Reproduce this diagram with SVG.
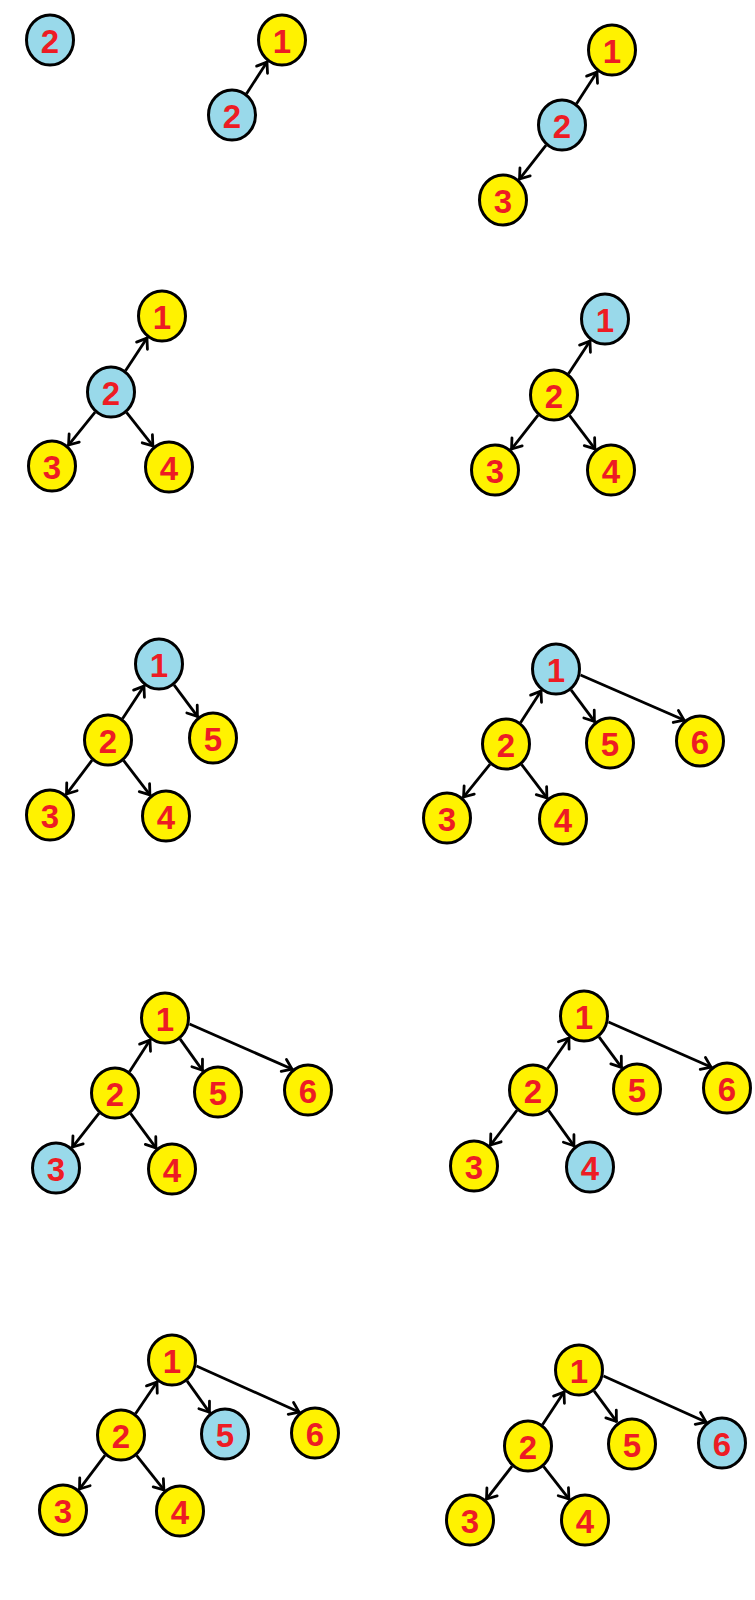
<svg xmlns="http://www.w3.org/2000/svg" width="755" height="1600" viewBox="0 0 755 1600">
<style>
.n{stroke:#000;stroke-width:3}
.y{fill:#FFF200}
.b{fill:#99D9EA}
.t{font-family:"Liberation Sans",Arial,sans-serif;font-weight:bold;font-size:33px;fill:#ED1C24;text-anchor:middle}
.e{stroke:#000;stroke-width:2.8;fill:none;marker-end:url(#ah)}
</style>
<defs>
<marker id="ah" markerUnits="userSpaceOnUse" orient="auto" refX="1" refY="0" markerWidth="20" markerHeight="20" overflow="visible">
<path d="M -9 -6.5 L 0 0 L -9 6.5" fill="none" stroke="#000" stroke-width="2.8" stroke-linejoin="round" stroke-linecap="round"/>
</marker>
</defs>
<rect width="755" height="1600" fill="#fff"/>
<g id="connectors">
<line class="e" x1="246.5" y1="93.7" x2="267.5" y2="61.3"/>
<line class="e" x1="576.5" y1="103.7" x2="597.5" y2="71.3"/>
<line class="e" x1="546.1" y1="145.2" x2="518.9" y2="179.8"/>
<line class="e" x1="125.5" y1="370.7" x2="147.5" y2="337.3"/>
<line class="e" x1="95.1" y1="412.2" x2="67.9" y2="445.8"/>
<line class="e" x1="126.5" y1="412.4" x2="153.5" y2="446.6"/>
<line class="e" x1="568.5" y1="373.7" x2="590.5" y2="340.3"/>
<line class="e" x1="538.1" y1="415.2" x2="510.9" y2="449.8"/>
<line class="e" x1="569.5" y1="415.4" x2="595.5" y2="449.6"/>
<line class="e" x1="122.5" y1="718.7" x2="144.5" y2="685.3"/>
<line class="e" x1="92.1" y1="760.2" x2="65.9" y2="794.8"/>
<line class="e" x1="123.5" y1="760.4" x2="150.5" y2="795.6"/>
<line class="e" x1="174" y1="684.9" x2="198" y2="717.1"/>
<line class="e" x1="520.5" y1="722.7" x2="541.5" y2="690.3"/>
<line class="e" x1="490.1" y1="764.2" x2="462.9" y2="797.8"/>
<line class="e" x1="521.5" y1="764.4" x2="547.5" y2="798.6"/>
<line class="e" x1="571" y1="689.9" x2="595" y2="722.1"/>
<line class="e" x1="580.5" y1="675" x2="685" y2="720.5"/>
<line class="e" x1="129.5" y1="1071.7" x2="150.5" y2="1039.3"/>
<line class="e" x1="99.1" y1="1113.2" x2="71.9" y2="1147.8"/>
<line class="e" x1="130.5" y1="1113.4" x2="156.5" y2="1148.6"/>
<line class="e" x1="180" y1="1038.9" x2="203" y2="1071.1"/>
<line class="e" x1="189.5" y1="1024" x2="293" y2="1069.5"/>
<line class="e" x1="547.5" y1="1068.7" x2="569.5" y2="1037.3"/>
<line class="e" x1="517.1" y1="1110.2" x2="489.9" y2="1145.8"/>
<line class="e" x1="548.5" y1="1110.4" x2="574.5" y2="1146.6"/>
<line class="e" x1="599" y1="1036.9" x2="622" y2="1068.1"/>
<line class="e" x1="608.5" y1="1022" x2="712" y2="1067.5"/>
<line class="e" x1="135.5" y1="1413.7" x2="157.5" y2="1381.3"/>
<line class="e" x1="105.1" y1="1455.2" x2="78.9" y2="1489.8"/>
<line class="e" x1="136.5" y1="1455.4" x2="164.5" y2="1490.6"/>
<line class="e" x1="187" y1="1380.9" x2="210" y2="1413.1"/>
<line class="e" x1="196.5" y1="1366" x2="300" y2="1412.5"/>
<line class="e" x1="542.5" y1="1424.7" x2="564.5" y2="1391.3"/>
<line class="e" x1="512.1" y1="1466.2" x2="485.9" y2="1499.8"/>
<line class="e" x1="543.5" y1="1466.4" x2="569.5" y2="1499.6"/>
<line class="e" x1="594" y1="1390.9" x2="617" y2="1422.1"/>
<line class="e" x1="603.5" y1="1376" x2="707" y2="1422.5"/>
</g>
<!-- panel 1 -->
<g id="p1-n2"><ellipse class="n b" cx="50" cy="40" rx="23.5" ry="25"/><text class="t" x="50" y="52.5">2</text></g>
<!-- panel 2 -->
<g id="p2-n1"><ellipse class="n y" cx="282" cy="40" rx="23.5" ry="25"/><text class="t" x="282" y="52.5">1</text></g>
<g id="p2-n2"><ellipse class="n b" cx="232" cy="115" rx="23.5" ry="25"/><text class="t" x="232" y="127.5">2</text></g>
<!-- panel 3 -->
<g id="p3-n1"><ellipse class="n y" cx="612" cy="50" rx="23.5" ry="25"/><text class="t" x="612" y="62.5">1</text></g>
<g id="p3-n2"><ellipse class="n b" cx="562" cy="125" rx="23.5" ry="25"/><text class="t" x="562" y="137.5">2</text></g>
<g id="p3-n3"><ellipse class="n y" cx="503" cy="200" rx="23.5" ry="25"/><text class="t" x="503" y="212.5">3</text></g>
<!-- panel 4 -->
<g id="p4-n1"><ellipse class="n y" cx="162" cy="316" rx="23.5" ry="25"/><text class="t" x="162" y="328.5">1</text></g>
<g id="p4-n2"><ellipse class="n b" cx="111" cy="392" rx="23.5" ry="25"/><text class="t" x="111" y="404.5">2</text></g>
<g id="p4-n3"><ellipse class="n y" cx="52" cy="466" rx="23.5" ry="25"/><text class="t" x="52" y="478.5">3</text></g>
<g id="p4-n4"><ellipse class="n y" cx="169" cy="467" rx="23.5" ry="25"/><text class="t" x="169" y="479.5">4</text></g>
<!-- panel 5 -->
<g id="p5-n1"><ellipse class="n b" cx="605" cy="319" rx="23.5" ry="25"/><text class="t" x="605" y="331.5">1</text></g>
<g id="p5-n2"><ellipse class="n y" cx="554" cy="395" rx="23.5" ry="25"/><text class="t" x="554" y="407.5">2</text></g>
<g id="p5-n3"><ellipse class="n y" cx="495" cy="470" rx="23.5" ry="25"/><text class="t" x="495" y="482.5">3</text></g>
<g id="p5-n4"><ellipse class="n y" cx="611" cy="470" rx="23.5" ry="25"/><text class="t" x="611" y="482.5">4</text></g>
<!-- panel 6 -->
<g id="p6-n1"><ellipse class="n b" cx="159" cy="664" rx="23.5" ry="25"/><text class="t" x="159" y="676.5">1</text></g>
<g id="p6-n2"><ellipse class="n y" cx="108" cy="740" rx="23.5" ry="25"/><text class="t" x="108" y="752.5">2</text></g>
<g id="p6-n5"><ellipse class="n y" cx="213" cy="738" rx="23.5" ry="25"/><text class="t" x="213" y="750.5">5</text></g>
<g id="p6-n3"><ellipse class="n y" cx="50" cy="815" rx="23.5" ry="25"/><text class="t" x="50" y="827.5">3</text></g>
<g id="p6-n4"><ellipse class="n y" cx="166" cy="816" rx="23.5" ry="25"/><text class="t" x="166" y="828.5">4</text></g>
<!-- panel 7 -->
<g id="p7-n1"><ellipse class="n b" cx="556" cy="669" rx="23.5" ry="25"/><text class="t" x="556" y="681.5">1</text></g>
<g id="p7-n2"><ellipse class="n y" cx="506" cy="744" rx="23.5" ry="25"/><text class="t" x="506" y="756.5">2</text></g>
<g id="p7-n5"><ellipse class="n y" cx="610" cy="743" rx="23.5" ry="25"/><text class="t" x="610" y="755.5">5</text></g>
<g id="p7-n6"><ellipse class="n y" cx="700" cy="741" rx="23.5" ry="25"/><text class="t" x="700" y="753.5">6</text></g>
<g id="p7-n3"><ellipse class="n y" cx="447" cy="818" rx="23.5" ry="25"/><text class="t" x="447" y="830.5">3</text></g>
<g id="p7-n4"><ellipse class="n y" cx="563" cy="819" rx="23.5" ry="25"/><text class="t" x="563" y="831.5">4</text></g>
<!-- panel 8 -->
<g id="p8-n1"><ellipse class="n y" cx="165" cy="1018" rx="23.5" ry="25"/><text class="t" x="165" y="1030.5">1</text></g>
<g id="p8-n2"><ellipse class="n y" cx="115" cy="1093" rx="23.5" ry="25"/><text class="t" x="115" y="1105.5">2</text></g>
<g id="p8-n5"><ellipse class="n y" cx="218" cy="1092" rx="23.5" ry="25"/><text class="t" x="218" y="1104.5">5</text></g>
<g id="p8-n6"><ellipse class="n y" cx="308" cy="1090" rx="23.5" ry="25"/><text class="t" x="308" y="1102.5">6</text></g>
<g id="p8-n3"><ellipse class="n b" cx="56" cy="1168" rx="23.5" ry="25"/><text class="t" x="56" y="1180.5">3</text></g>
<g id="p8-n4"><ellipse class="n y" cx="172" cy="1169" rx="23.5" ry="25"/><text class="t" x="172" y="1181.5">4</text></g>
<!-- panel 9 -->
<g id="p9-n1"><ellipse class="n y" cx="584" cy="1016" rx="23.5" ry="25"/><text class="t" x="584" y="1028.5">1</text></g>
<g id="p9-n2"><ellipse class="n y" cx="533" cy="1090" rx="23.5" ry="25"/><text class="t" x="533" y="1102.5">2</text></g>
<g id="p9-n5"><ellipse class="n y" cx="637" cy="1089" rx="23.5" ry="25"/><text class="t" x="637" y="1101.5">5</text></g>
<g id="p9-n6"><ellipse class="n y" cx="727" cy="1088" rx="23.5" ry="25"/><text class="t" x="727" y="1100.5">6</text></g>
<g id="p9-n3"><ellipse class="n y" cx="474" cy="1166" rx="23.5" ry="25"/><text class="t" x="474" y="1178.5">3</text></g>
<g id="p9-n4"><ellipse class="n b" cx="590" cy="1167" rx="23.5" ry="25"/><text class="t" x="590" y="1179.5">4</text></g>
<!-- panel 10 -->
<g id="p10-n1"><ellipse class="n y" cx="172" cy="1360" rx="23.5" ry="25"/><text class="t" x="172" y="1372.5">1</text></g>
<g id="p10-n2"><ellipse class="n y" cx="121" cy="1435" rx="23.5" ry="25"/><text class="t" x="121" y="1447.5">2</text></g>
<g id="p10-n5"><ellipse class="n b" cx="225" cy="1434" rx="23.5" ry="25"/><text class="t" x="225" y="1446.5">5</text></g>
<g id="p10-n6"><ellipse class="n y" cx="315" cy="1433" rx="23.5" ry="25"/><text class="t" x="315" y="1445.5">6</text></g>
<g id="p10-n3"><ellipse class="n y" cx="63" cy="1510" rx="23.5" ry="25"/><text class="t" x="63" y="1522.5">3</text></g>
<g id="p10-n4"><ellipse class="n y" cx="180" cy="1511" rx="23.5" ry="25"/><text class="t" x="180" y="1523.5">4</text></g>
<!-- panel 11 -->
<g id="p11-n1"><ellipse class="n y" cx="579" cy="1370" rx="23.5" ry="25"/><text class="t" x="579" y="1382.5">1</text></g>
<g id="p11-n2"><ellipse class="n y" cx="528" cy="1446" rx="23.5" ry="25"/><text class="t" x="528" y="1458.5">2</text></g>
<g id="p11-n5"><ellipse class="n y" cx="632" cy="1444" rx="23.5" ry="25"/><text class="t" x="632" y="1456.5">5</text></g>
<g id="p11-n6"><ellipse class="n b" cx="722" cy="1443" rx="23.5" ry="25"/><text class="t" x="722" y="1455.5">6</text></g>
<g id="p11-n3"><ellipse class="n y" cx="470" cy="1520" rx="23.5" ry="25"/><text class="t" x="470" y="1532.5">3</text></g>
<g id="p11-n4"><ellipse class="n y" cx="585" cy="1520" rx="23.5" ry="25"/><text class="t" x="585" y="1532.5">4</text></g>
</svg>
